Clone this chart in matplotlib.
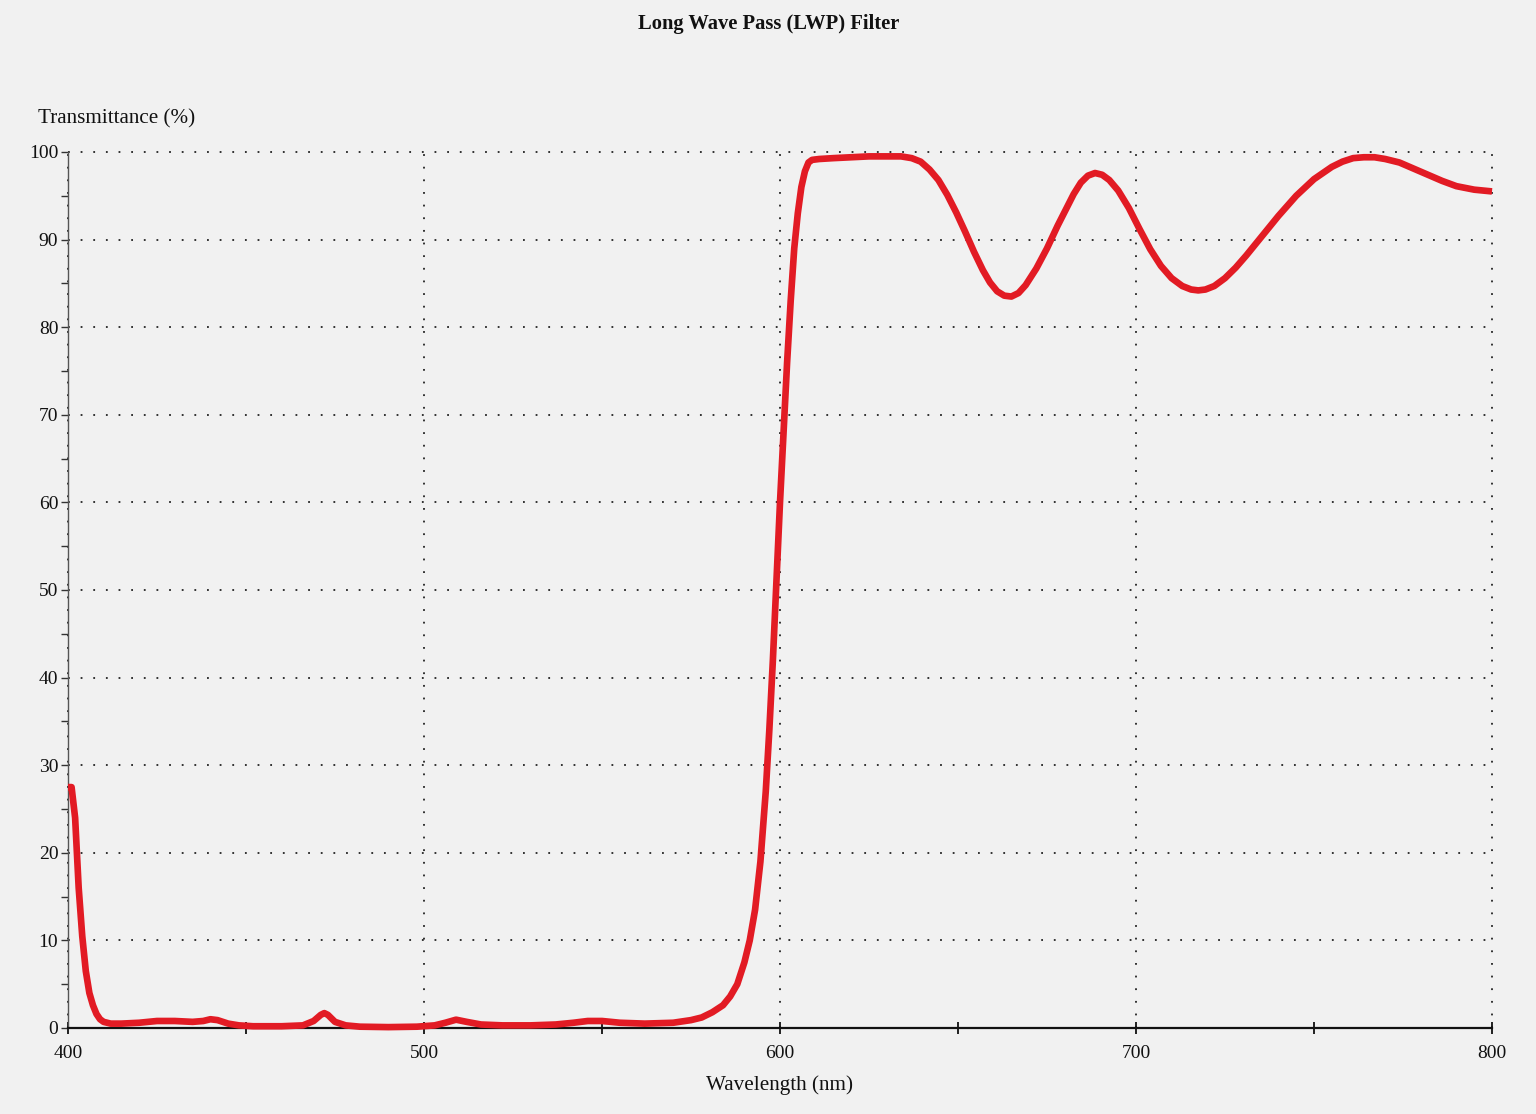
import matplotlib
matplotlib.use("Agg")
import matplotlib.pyplot as plt
from matplotlib.ticker import MultipleLocator

wavelength = [400, 401, 402, 403, 404, 405, 406, 407, 408, 409, 410, 412, 415, 420, 425, 430, 435,
              438, 440, 442, 445, 448, 452, 460, 466, 469, 471, 472, 473, 475, 478, 482, 490, 498,
              503, 506, 509, 512, 516, 522, 530, 537, 542, 546, 550, 555, 562, 570, 575, 578, 581,
              584, 586, 588, 590, 591.5, 593, 594.5, 596, 597, 598, 599, 600, 601, 602, 603, 604,
              605, 606, 607, 608, 609, 611, 615, 620, 625, 630, 634, 637, 639.5, 642, 644.5, 647,
              649.5, 652, 654.5, 657, 659, 661, 663, 665, 667, 669, 672, 675, 678, 680.5, 682.5,
              684.5, 686.5, 688.5, 690.5, 692.5, 695, 698, 701, 704, 707, 710, 713, 715.5, 717.5,
              719.5, 722, 725, 728, 731, 735, 740, 745, 750, 755, 758, 761, 764, 767, 770, 774,
              778, 782, 786, 790, 795, 800]
transmittance = [27.5, 27.5, 24.0, 16.0, 10.5, 6.5, 4.0, 2.6, 1.6, 1.0, 0.7, 0.5, 0.5, 0.6, 0.8, 0.8,
                 0.7, 0.8, 1.0, 0.9, 0.5, 0.3, 0.2, 0.2, 0.3, 0.8, 1.5, 1.7, 1.5, 0.7, 0.3, 0.15,
                 0.1, 0.15, 0.3, 0.6, 0.95, 0.7, 0.4, 0.3, 0.3, 0.4, 0.6, 0.8, 0.8, 0.6, 0.5, 0.6,
                 0.9, 1.2, 1.8, 2.6, 3.6, 5.0, 7.5, 10.0, 13.5, 19.0, 27.0, 34.0, 42.0, 51.0, 60.0,
                 68.0, 76.0, 83.0, 89.0, 93.0, 96.0, 97.8, 98.8, 99.1, 99.2, 99.3, 99.4, 99.5, 99.5,
                 99.5, 99.3, 98.9, 98.0, 96.8, 95.1, 93.1, 90.9, 88.6, 86.5, 85.1, 84.1, 83.6, 83.5,
                 83.9, 84.8, 86.7, 89.0, 91.6, 93.6, 95.2, 96.5, 97.3, 97.6, 97.4, 96.8, 95.6, 93.6,
                 91.2, 88.9, 87.0, 85.6, 84.7, 84.3, 84.2, 84.3, 84.7, 85.6, 86.8, 88.2, 90.2, 92.7,
                 95.0, 96.9, 98.3, 98.9, 99.3, 99.4, 99.4, 99.2, 98.8, 98.1, 97.4, 96.7, 96.1, 95.7,
                 95.5]

x_major = [400, 500, 600, 700, 800]
y_major = [0, 10, 20, 30, 40, 50, 60, 70, 80, 90, 100]

bg = "#f1f1f1"
plt.rcParams["font.family"] = ["Liberation Serif", "DejaVu Serif"]

fig = plt.figure(figsize=(15.36, 11.14), dpi=100, facecolor=bg)
ax = fig.add_axes([68/1536, 86/1114, (1492-68)/1536, (1028-152)/1114])
ax.set_facecolor(bg)

ax.plot(wavelength, transmittance, color="#e21b24", lw=4.8, solid_joinstyle="round",
        solid_capstyle="butt", zorder=3, clip_on=False)

ax.set_xlim(400, 800)
ax.set_ylim(0, 100)
ax.set_xticks(x_major)
ax.set_yticks(y_major)
ax.xaxis.set_minor_locator(MultipleLocator(50))
ax.yaxis.set_minor_locator(MultipleLocator(5))

ax.grid(True, which="major", color="#222222", linestyle=(0, (1, 6)), linewidth=1.3)
for gl in ax.get_xgridlines() + ax.get_ygridlines():
    gl.set_clip_on(False)

for s in ["top", "right"]:
    ax.spines[s].set_visible(False)
ax.spines["left"].set_color("#555555")
ax.spines["left"].set_linewidth(1.0)
ax.spines["bottom"].set_color("#111111")
ax.spines["bottom"].set_linewidth(1.6)

ax.tick_params(axis="x", which="both", direction="inout", length=9, width=1.3,
               colors="#111111", labelsize=14, pad=8)
ax.tick_params(axis="y", which="both", direction="out", length=5, width=1.0,
               colors="#333333", labelsize=14, pad=2)
ax.tick_params(axis="y", labelcolor="#111111")

fig.text(769/1536, 1 - 24/1114, "Long Wave Pass (LWP) Filter", ha="center", va="center",
         fontsize=14.8, fontweight="bold", color="#111111")
fig.text(38/1536, 1 - 119/1114, "Transmittance (%)", ha="left", va="center",
         fontsize=15.2, color="#111111")
fig.text(779/1536, 1 - 1085/1114, "Wavelength (nm)", ha="center", va="center",
         fontsize=15.2, color="#111111")

fig.savefig("out.png", dpi=100, facecolor=bg)
